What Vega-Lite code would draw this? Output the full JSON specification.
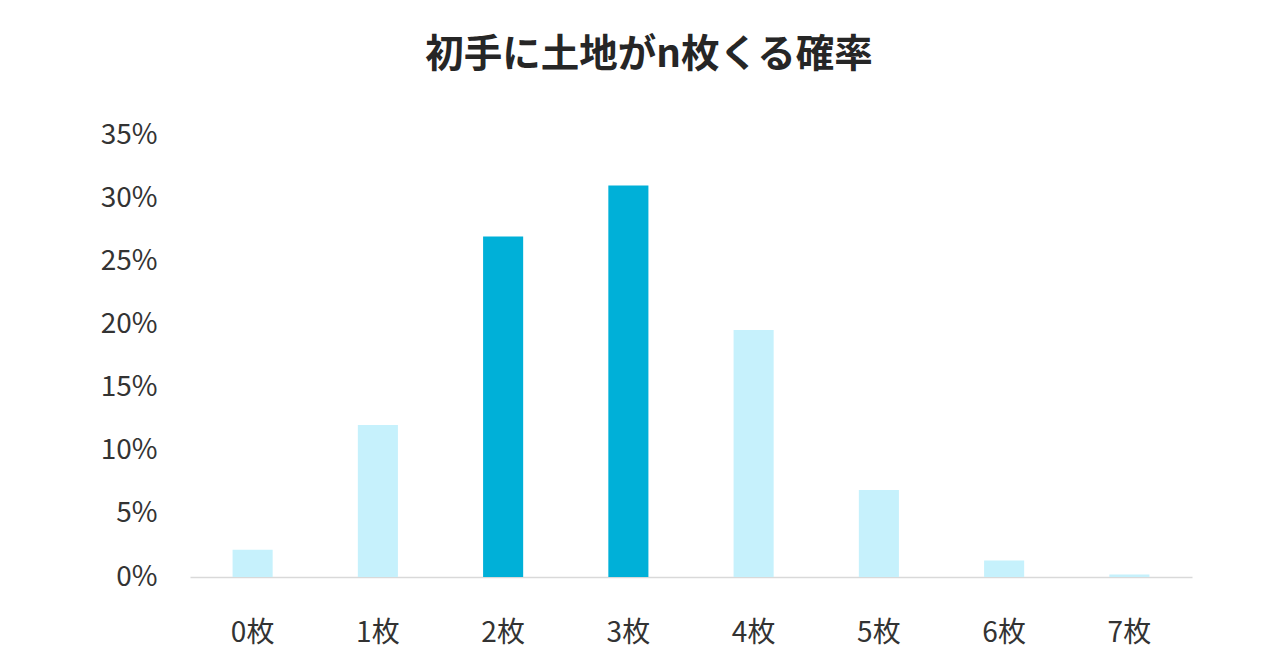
{
  "$schema": "https://vega.github.io/schema/vega-lite/v6.json",
  "autosize": "none",
  "width": 1002,
  "height": 442,
  "padding": {"left": 190, "top": 135, "right": 88, "bottom": 92},
  "background": "white",
  "title": {
    "text": "初手に土地がn枚くる確率",
    "fontSize": 38.5,
    "fontWeight": "bold",
    "color": "#262626",
    "anchor": "middle",
    "dx": -42,
    "offset": 46
  },
  "data": {
    "values": [
      {"lands": "0枚", "rate": 0.0215, "group": "low"},
      {"lands": "1枚", "rate": 0.1204, "group": "low"},
      {"lands": "2枚", "rate": 0.2697, "group": "high"},
      {"lands": "3枚", "rate": 0.31, "group": "high"},
      {"lands": "4枚", "rate": 0.1956, "group": "low"},
      {"lands": "5枚", "rate": 0.0689, "group": "low"},
      {"lands": "6枚", "rate": 0.0131, "group": "low"},
      {"lands": "7枚", "rate": 0.002, "group": "low"}
    ]
  },
  "mark": {"type": "bar"},
  "encoding": {
    "x": {
      "field": "lands",
      "type": "nominal",
      "sort": null,
      "scale": {"paddingInner": 0.68, "paddingOuter": 0.34},
      "axis": {
        "title": null,
        "labelAngle": 0,
        "ticks": false,
        "domainColor": "#d9d9d9",
        "domainWidth": 1.5,
        "labelPadding": 56,
        "labelBaseline": "middle"
      }
    },
    "y": {
      "field": "rate",
      "type": "quantitative",
      "scale": {"domain": [0, 0.35]},
      "axis": {
        "title": null,
        "format": ".0%",
        "values": [0, 0.05, 0.1, 0.15, 0.2, 0.25, 0.3, 0.35],
        "grid": false,
        "domain": false,
        "ticks": false,
        "labelPadding": 33
      }
    },
    "color": {
      "field": "group",
      "type": "nominal",
      "scale": {"domain": ["low", "high"], "range": ["#c6f1fc", "#00b0d8"]},
      "legend": null
    }
  },
  "config": {
    "view": {"stroke": null},
    "axis": {
      "labelFont": "Noto Sans CJK JP",
      "labelFontSize": 28,
      "labelColor": "#333333"
    },
    "title": {"font": "Noto Sans CJK JP"}
  }
}
